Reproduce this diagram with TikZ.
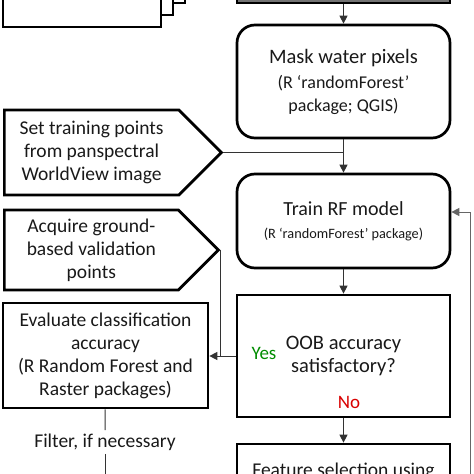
\documentclass[tikz,border=0pt]{standalone}
\usepackage{fontspec}
\setmainfont{Carlito}
\usetikzlibrary{arrows.meta, shapes.symbols, shadows}

\begin{document}
\begin{tikzpicture}[x=1pt, y=-1pt,
  box/.style={draw, line width=2.7pt, minimum width=213pt, align=center, text=black!90,
    font=\fontsize{19.5}{23}\selectfont},
  roundbox/.style={box, rounded corners=18pt},
  tag/.style={draw, line width=2.7pt, shape=signal, signal to=east, signal pointer angle=90,
    inner sep=0pt, anchor=west, align=center, text=black!90,
    font=\fontsize{19.5}{23}\selectfont},
  conn/.style={black!80, line width=1pt, -{Triangle[length=8pt,width=8pt]}},
  link/.style={black!80, line width=1pt}]
  \clip (0,0) rectangle (474,474);

  % pila di immagini
  \node[draw, fill=white, line width=2.7pt, minimum width=158pt, minimum height=60pt,
    double copy shadow={shadow xshift=12pt, shadow yshift=12pt, line width=2.7pt}] (imgs) at (82,-3) {};

  % riquadro in alto
  \node[box, fill=black!55, minimum height=40pt] (prep) at (343.5,-17) {};

  % colonna destra
  \node[roundbox, minimum height=113pt] (mask) at (343.5,81.5)
    {{\fontsize{20.5}{23}\selectfont Mask water pixels}\\[2pt]
     {\fontsize{18}{21}\selectfont (R ‘randomForest’}\\
     {\fontsize{18}{21}\selectfont package; QGIS)}};
  \node[roundbox, minimum height=94pt] (train) at (343.5,221)
    {{\fontsize{20}{23}\selectfont Train RF model}\\
     {\fontsize{14.3}{18}\selectfont (R ‘randomForest’ package)}};
  \node[box, minimum height=122pt, font=\fontsize{20.5}{23}\selectfont] (decide) at (343.5,356)
    {OOB accuracy\\satisfactory?};
  \node[green!55!black, font=\fontsize{19}{23}\selectfont] (yes) at (264,353) {Yes};
  \node[red!85!black, font=\fontsize{19}{23}\selectfont] (no) at (349,402) {No};
  \node[box, minimum height=54pt] (feature) at (343.5,471) {Feature selection using};

  % colonna sinistra
  \node[tag, minimum width=217pt, minimum height=85pt] (settrain) at (3,152.5)
    {Set training points\\from panspectral\\WorldView image};
  \node[tag, minimum width=214pt, minimum height=80pt] (acquire) at (3,250)
    {Acquire ground-\\based validation\\points};
  \node[box, minimum width=205pt, minimum height=105pt] (evaluate) at (105.5,355.5)
    {Evaluate classification\\accuracy\\(R Random Forest and\\Raster packages)};
  \node[text=black!90, font=\fontsize{19.5}{23}\selectfont] (filter) at (105,442) {Filter, if necessary};
  \coordinate (out) at (105,482);
  \coordinate (loop) at (470,490);

  % frecce
  \draw[conn] (prep) -- (mask);
  \draw[conn] (mask) -- (train);
  \draw[link] (settrain.east) -- (settrain.east -| mask.south);
  \draw[conn] (train) -- (decide);
  \draw[conn] (decide) -- (feature);
  \draw[conn] (decide.west) -- (decide.west -| evaluate.east);
  \draw[link] (acquire.east) -- (acquire.east |- decide.west);
  \draw[link] (evaluate) -- (filter);
  \draw[conn] (filter) -- (out);
  \draw[conn, black!60] (loop) |- ([yshift=9pt]train.east);
\end{tikzpicture}
\end{document}
